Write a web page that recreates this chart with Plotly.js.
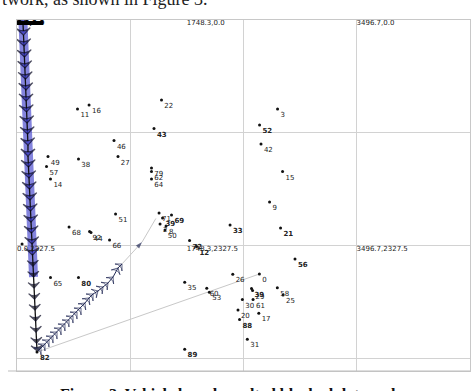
<!DOCTYPE html>
<html><head><meta charset="utf-8">
<script src="https://cdn.plot.ly/plotly-3.0.1.min.js"></script>
<style>html,body{margin:0;padding:0;background:#fff;}#chart{width:474px;height:391px;}</style>
</head><body><div id="chart"></div>
<script>
// Network nodes (map units)
const nodeLabels = ["11","16","22","43","3","52","42","46","27","49","57","14","38","79","62","64","15","9","21","51","68","92","44","66","","65","80","71","69","39","2","8","50","33","72","12","56","0","26","58","25","35","60","53","39","29","30","61","20","88","17","31","89","82"];
const nodeX = [623,742,1488,1411,2683,2498,2513,999,1040,319,304,345,633,1385,1385,1385,2735,2601,2714,1015,536,747,762,953,52,345,633,1463,1591,1499,1473,1535,1524,2194,1777,1849,2863,2496,2222,2681,2740,1727,1954,1981,2415,2426,2321,2431,2276,2292,2490,2372,1727,206];
const nodeY = [917,876,824,1118,917,1082,1277,1241,1406,1406,1509,1638,1432,1524,1560,1638,1560,1875,2142,1998,2132,2178,2189,2266,2307,2652,2652,1988,2009,2039,2101,2122,2163,2112,2271,2333,2462,2616,2619,2757,2833,2702,2763,2805,2766,2786,2879,2879,2987,3085,3021,3289,3392,3420];
const boldLabels = ["43","52","21","80","69","33","72","12","56","39","88","89","82"];

// Vehicle route 1 (top-left down to node 82)
const routeAX = [52,62,67,72,77,82,88,93,93,98,103,108,113,113,118,124,129,134,139,144,149,155,160,165,170,175,180,185,191,196,201,206];
const routeAY = [10,41,155,268,381,494,608,721,834,947,1061,1174,1288,1401,1514,1627,1741,1854,1967,2081,2194,2307,2421,2534,2647,2760,2874,2987,3100,3214,3327,3409];
// Vehicle route 2 (node 82 towards node 71)
const routeBX = [206,247,288,330,371,412,453,494,536,577,618,659,700,742,783,834,886,937,989,1040,1081];
const routeBY = [3420,3378,3337,3296,3255,3214,3172,3131,3090,3049,3008,2966,2915,2863,2822,2791,2750,2709,2647,2554,2513];
// Thin grey links
const linkCX = [1081,1288,1463];
const linkCY = [2513,2287,1988];
const linkDX = [206,2496];
const linkDY = [3420,2616];
// Reference coordinates
const refX = [0,1748.3,3496.7,0,1748.3,3496.7];
const refY = [0,0,0,2327.5,2327.5,2327.5];

const cellX = 3496.7/3, cellY = 2327.5/2;
const txtFont = {family:'DejaVu Sans, sans-serif', size:7, color:'#222'};

const traces = [];
traces.push({x:linkDX, y:linkDY, mode:'lines', line:{color:'#c8c8c8', width:1}, hoverinfo:'skip'});
traces.push({x:linkCX, y:linkCY, mode:'lines+markers', line:{color:'#c8c8c8', width:1},
  marker:{symbol:'arrow', angleref:'previous', size:linkCX.map((v,i)=>i===1?7:0), color:'#222a55', line:{width:0}}, hoverinfo:'skip'});
// route 1 blue halo (upper part)
const haloN = routeAY.filter(v=>v<2650).length;
traces.push({x:routeAX.slice(0,haloN), y:routeAY.slice(0,haloN), mode:'lines', line:{color:'rgba(50,50,200,0.6)', width:9}, hoverinfo:'skip'});
// route 1 arrows
traces.push({x:routeAX, y:routeAY, mode:'lines+markers', line:{color:'#111', width:1.3},
  marker:{symbol:'arrow-wide', angleref:'previous',
    size:routeAX.map((v,i)=>i===0?0:(routeAY[i]<2500?10:8)),
    color:routeAY.map(v=>v<2500?'#3535c8':'#111'),
    line:{color:'#05051f', width:1.2}}, hoverinfo:'skip'});
// route 2 arrows
traces.push({x:routeBX, y:routeBY, mode:'lines+markers', line:{color:'#222a55', width:1},
  marker:{symbol:'arrow-wide-open', angleref:'previous', size:routeBX.map((v,i)=>i===0?0:7), color:'#222a55', line:{width:1}}, hoverinfo:'skip'});
// nodes
traces.push({x:nodeX, y:nodeY, mode:'markers+text', text:nodeLabels.map(t=>boldLabels.includes(t)?'<b>'+t+'</b>':t),
  textposition:'bottom right', textfont:txtFont, marker:{size:3, color:'#111'}, hoverinfo:'skip', cliponaxis:false});
// reference labels
traces.push({x:refX, y:refY, mode:'text', text:refX.map((v,i)=>i===0?'<b>'+v.toFixed(1)+','+refY[i].toFixed(1)+'</b>':v.toFixed(1)+','+refY[i].toFixed(1)),
  textposition:'bottom right', textfont:{family:'DejaVu Sans, sans-serif', size:7, color:refX.map((v,i)=>i===0?'#000':'#222')}, hoverinfo:'skip', cliponaxis:false});

const layout = {
  width:474, height:391, margin:{l:17, r:4, t:20, b:20},
  paper_bgcolor:'#fff', plot_bgcolor:'#fff', showlegend:false,
  xaxis:{range:[0,4665], tick0:0, dtick:cellX, showgrid:true, gridcolor:'#d2d2d2', gridwidth:1,
    showticklabels:false, ticks:'', zeroline:false, showline:true, linecolor:'#c8c8c8', mirror:true, fixedrange:true},
  yaxis:{range:[3615,0], tick0:0, dtick:cellY, showgrid:true, gridcolor:'#d2d2d2', gridwidth:1,
    showticklabels:false, ticks:'', zeroline:false, showline:true, linecolor:'#c8c8c8', mirror:true, fixedrange:true},
  shapes:[{type:'line', xref:'paper', yref:'paper', x0:-9/453, x1:1, y0:0, y1:0, line:{color:'#bdbdbd', width:1}},
          {type:'line', xref:'paper', yref:'paper', x0:0, x1:26/453, y0:1-3/351, y1:1-3/351, line:{color:'#000', width:4}}],
  annotations:[
    {text:'twork, as shown in Figure 3.', xref:'paper', yref:'paper', x:-17/453, y:1.095, xanchor:'left', yanchor:'top',
     showarrow:false, font:{family:'Liberation Serif, serif', size:18, color:'#222'}},
    {text:'<b>Figure 3. Vehicle based resulted blocked dots and</b>', xref:'paper', yref:'paper', x:0.466, y:-0.038, xanchor:'center', yanchor:'top',
     showarrow:false, font:{family:'Liberation Serif, serif', size:16, color:'#111'}}
  ]
};
Plotly.newPlot('chart', traces, layout, {staticPlot:true, displayModeBar:false});
</script></body></html>
